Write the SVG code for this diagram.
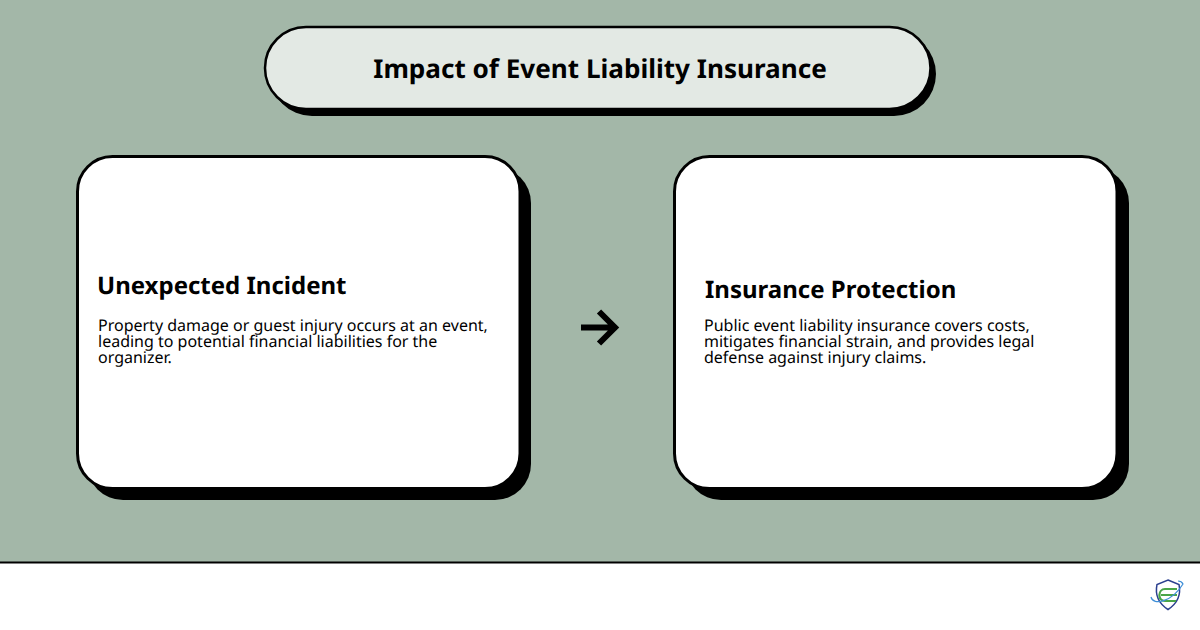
<svg xmlns="http://www.w3.org/2000/svg" width="1200" height="630" viewBox="0 0 1200 630">
<style>
.t{font-family:"Noto Sans","DejaVu Sans",sans-serif;fill:#000;text-rendering:geometricPrecision}
.h{font-size:24px;font-weight:700}
.b{font-size:16px}
.card{fill:#fff;stroke:#000;stroke-width:3}
.sh{fill:#000}
</style>
<rect width="1200" height="630" fill="#fff"/>
<rect id="band" width="1200" height="562" fill="#a3b7a8"/>
<rect y="561.5" width="1200" height="2" fill="#000"/>
<g id="title">
<rect class="sh" x="270" y="32" width="666" height="84" rx="42"/>
<rect x="265" y="27" width="665.500" height="82" rx="41" fill="#e3e9e4" stroke="#000" stroke-width="2.500"/>
<text class="t" x="600" y="78" text-anchor="middle" font-size="26.100" font-weight="700">Impact of Event Liability Insurance</text>
</g>
<g id="incident">
<rect class="sh" x="87" y="167" width="444" height="333" rx="36"/>
<rect class="card" x="77.500" y="156.500" width="442.500" height="332" rx="35"/>
<text class="t h" x="97" y="294">Unexpected Incident</text>
<text class="t b" x="98" y="331">Property damage or guest injury occurs at an event,</text>
<text class="t b" x="98" y="347">leading to potential financial liabilities for the</text>
<text class="t b" x="98" y="363">organizer.</text>
</g>
<g id="protection">
<rect class="sh" x="685" y="167" width="444" height="333" rx="36"/>
<rect class="card" x="674.500" y="156.500" width="442.500" height="332" rx="35"/>
<text class="t h" x="705" y="298">Insurance Protection</text>
<text class="t b" x="704" y="331">Public event liability insurance covers costs,</text>
<text class="t b" x="704" y="347">mitigates financial strain, and provides legal</text>
<text class="t b" x="704" y="363">defense against injury claims.</text>
</g>
<g id="connectors">
<path d="M581 327.500H612M599 311.500L615 327.500L599 343.500" fill="none" stroke="#000" stroke-width="6"/>
</g>
<g id="logo" fill="none">
<path d="M1168 580L1179 584.500C1181 594 1178 603 1168 609.500C1158 603 1155 594 1157 584.500Z" fill="#fff" stroke="#2b3f8f" stroke-width="1.500"/>
<path d="M1177 589H1165C1158 589 1157 601 1165 601H1176M1161 595H1177" stroke="#4aa548" stroke-width="2.200"/>
<path d="M1151 597C1153 606 1172 602 1183 584C1182 582 1180 581 1178 581" stroke="#3f8fd8" stroke-width="1.200"/>
</g>
</svg>
